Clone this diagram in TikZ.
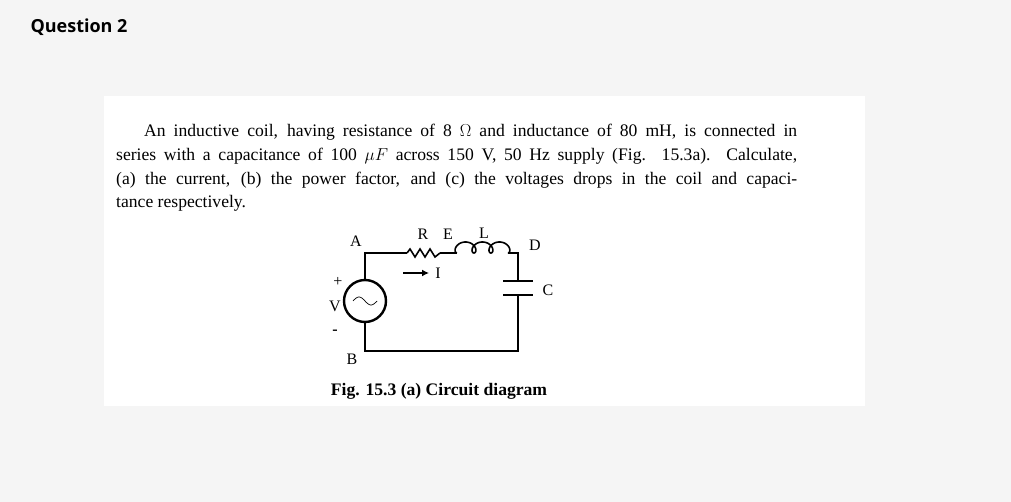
\documentclass[tikz,border=0pt]{standalone}
\usepackage{fontspec}
\setmainfont{Liberation Serif}
\newfontfamily\qfont{Open Sans}
\usetikzlibrary{arrows.meta}
\begin{document}
\begin{tikzpicture}[x=1pt,y=-1pt,
  wire/.style={line width=2.8pt},
  lbl/.style={font=\fontsize{16}{16}\selectfont, inner sep=0},
  para/.style={anchor=base west, inner sep=0, font=\fontsize{17.6}{20}\selectfont}]
\fill[gray!8] (0,0) rectangle (1011,502);
\useasboundingbox (0,0) rectangle (1011,502);
\fill[white] (104,96) rectangle (865,406);
\node[anchor=west, font=\qfont\bfseries\fontsize{18}{18}\selectfont] (q) at (27,27) {Question 2};
\node[para] (p1) at (144,137) {\makebox[653pt][s]{An inductive coil, having resistance of 8 $\Omega$ and inductance of 80 mH, is connected in}};
\node[para] (p2) at (116,161) {\makebox[681pt][s]{series with a capacitance of 100 $\mu F$ across 150 V, 50 Hz supply (Fig. 15.3a). Calculate,}};
\node[para] (p3) at (116,185) {\makebox[681pt][s]{(a) the current, (b) the power factor, and (c) the voltages drops in the coil and capaci-}};
\node[para] (p4) at (116,208) {tance respectively.};
% circuit
\coordinate (A) at (365,253);
\coordinate (B) at (365,351);
\coordinate (BR) at (518,351);
\coordinate (TR) at (518,253);
\node[draw, circle, line width=2.4pt, minimum size=42pt, inner sep=0] (src) at (365,301) {};
\draw[line width=0.7pt, shift={(src.center)}] plot[domain=-12:12, samples=40, smooth] (\x, {4*sin(15*\x)});
\coordinate (r1) at (407,253);
\coordinate (r2) at (440,253);
\coordinate (l1) at (457,253);
\coordinate (l2) at (508,253);
\coordinate (c1) at (518,281);
\coordinate (c2) at (518,295);
\draw[wire] (src.north) -- (A) -- (r1);
\draw[line width=1.6pt] (r1) -- ++(3,-4) -- ++(5,8) -- ++(5,-8) -- ++(5,8) -- ++(5,-8) -- ++(5,8) -- (r2);
\draw[wire] (r2) -- (l1);
\draw[line width=1.6pt, shift={(l1)}] plot[domain=0:1080, samples=150, smooth] ({2.7*rad(\x) - 5.5*sin(\x)}, {-5.5*(1-cos(\x))});
\draw[wire] (l2) -- (TR) -- (c1);
\draw[wire] (503,281) -- (533,281);
\draw[wire] (503,295) -- (533,295);
\draw[wire] (c2) -- (BR) -- (B) -- (src.south);
\coordinate (ia) at (403,273);
\coordinate (ib) at (429,273);
\draw[line width=1.6pt,-{Latex[length=7pt,width=7pt]}] (ia) -- (ib);
\node[lbl] (tA) at (356,241) {A};
\node[lbl] (tR) at (423,234) {R};
\node[lbl] (tE) at (448,234) {E};
\node[lbl] (tL) at (484,233) {L};
\node[lbl] (tD) at (535,245) {D};
\node[lbl] (tC) at (548,290) {C};
\node[lbl] (tI) at (438,273) {I};
\node[lbl] (tp) at (338,282) {+};
\node[lbl] (tV) at (335,306) {V};
\node[lbl, font=\bfseries\fontsize{16}{16}\selectfont] (tm) at (335,332) {-};
\node[lbl] (tB) at (352,359) {B};
\node[font=\bfseries\fontsize{17.6}{18}\selectfont, inner sep=0] (cap) at (439,391) {Fig. 15.3 (a) Circuit diagram};
\end{tikzpicture}
\end{document}
